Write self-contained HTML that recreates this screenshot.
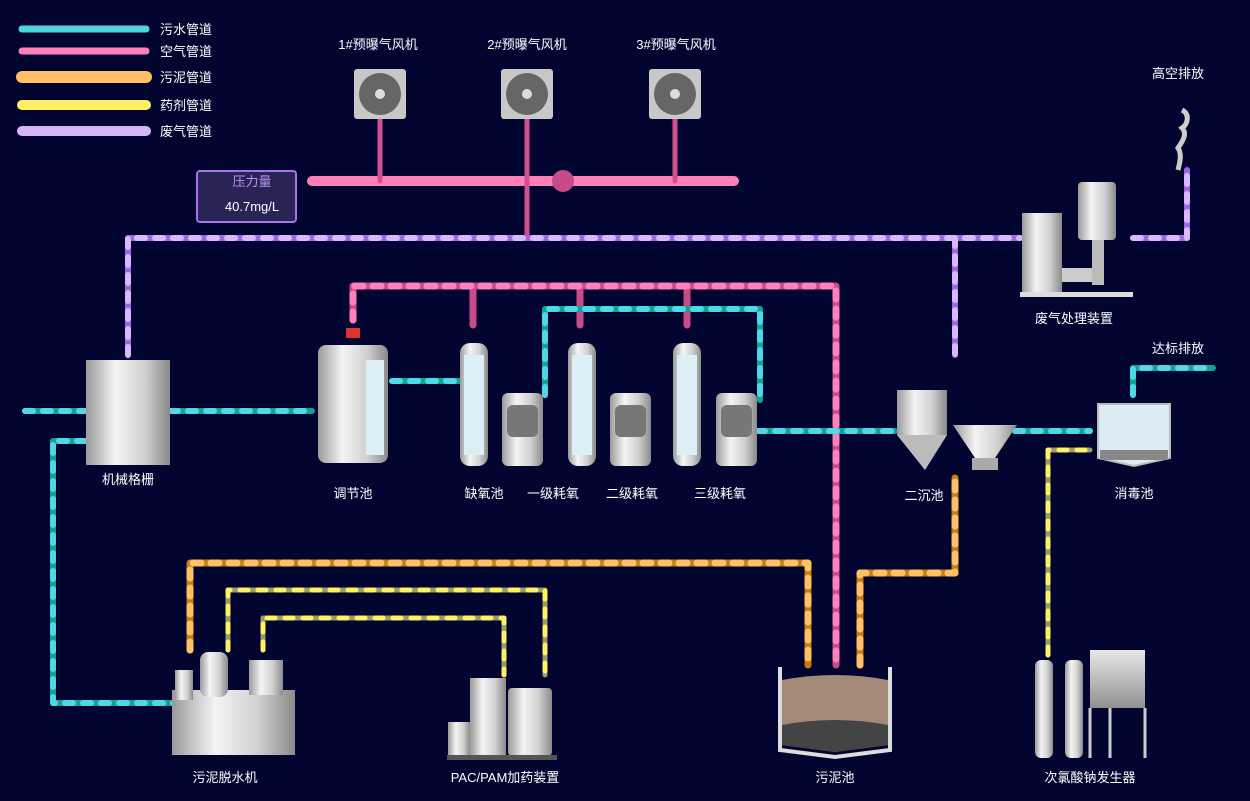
<!DOCTYPE html>
<html><head><meta charset="utf-8"><style>
html,body{margin:0;padding:0;background:#02052f;}
svg{display:block;font-family:"Liberation Sans","Noto Sans CJK SC",sans-serif;}
.l{fill:#fff;font-size:13px;text-anchor:middle;}
</style></head><body>
<svg width="1250" height="801" viewBox="0 0 1250 801">
<defs>
<linearGradient id="m" x1="0" x2="1"><stop offset="0" stop-color="#9a9a9a"/><stop offset=".35" stop-color="#f4f4f4"/><stop offset=".7" stop-color="#d0d0d0"/><stop offset="1" stop-color="#8a8a8a"/></linearGradient>
<linearGradient id="mv" x1="0" y1="0" x2="0" y2="1"><stop offset="0" stop-color="#e8e8e8"/><stop offset="1" stop-color="#909090"/></linearGradient>
</defs>
<rect width="1250" height="801" fill="#02052f"/>
<!-- legend -->
<g stroke-linecap="round">
<line x1="22" y1="29" x2="146" y2="29" stroke="#4fd3e0" stroke-width="7"/>
<line x1="22" y1="51" x2="146" y2="51" stroke="#ff7fb8" stroke-width="7"/>
<line x1="22" y1="77" x2="146" y2="77" stroke="#ffc066" stroke-width="12"/>
<line x1="22" y1="105" x2="146" y2="105" stroke="#fff066" stroke-width="10"/>
<line x1="22" y1="131" x2="146" y2="131" stroke="#d6b4f8" stroke-width="10"/>
</g>
<g fill="#fff" font-size="13"><text x="160" y="34">污水管道</text><text x="160" y="56">空气管道</text><text x="160" y="82">污泥管道</text><text x="160" y="110">药剂管道</text><text x="160" y="136">废气管道</text></g>
<rect x="197" y="171" width="99" height="51" rx="3" fill="#2a2456" stroke="#a574e6" stroke-width="2"/>
<text x="252" y="186" fill="#b790ee" font-size="13" text-anchor="middle">压力量</text>
<text x="252" y="211" fill="#fff" font-size="13" text-anchor="middle">40.7mg/L</text>

<g fill="none" stroke-linecap="round" stroke-linejoin="round">
<!-- air -->
<line x1="312" y1="181" x2="734" y2="181" stroke="#ff7fb8" stroke-width="10"/>
<path d="M380 118V181M675 118V181" stroke="#d24f8f" stroke-width="5"/>
<path d="M527 118V237" stroke="#d24f8f" stroke-width="5"/>
<!-- gas -->
<g stroke-width="6"><path id="g1" d="M128 355V238H1020M955 238V355M1133 238H1187V170" stroke="#a065e0"/>
<path d="M128 355V238H1020M955 238V355M1133 238H1187V170" stroke="#d8b8ff" stroke-dasharray="8 10"/></g>
<!-- air dist -->
<g stroke-width="7"><path d="M353 320V286H836V665M473 286V325M580 286V325M687 286V325" stroke="#c84a88"/>
<path d="M353 320V286H836V665" stroke="#ff80bb" stroke-dasharray="8 10"/></g>
<!-- water -->
<g stroke-width="6"><path d="M25 411H85M170 411H312M392 381H460M545 395V309H760V400M757 431H895M1015 431H1090M1133 395V368H1213M85 441H53V703H175" stroke="#14a095"/>
<path d="M25 411H85M170 411H312M392 381H460M545 395V309H760V400M757 431H895M1015 431H1090M1133 395V368H1213M85 441H53V703H175" stroke="#50d8e8" stroke-dasharray="8 10"/></g>
<!-- sludge -->
<g stroke-width="7"><path d="M190 650V563H808V665M860 665V573H955V478" stroke="#c37d10"/>
<path d="M190 650V563H808V665M860 665V573H955V478" stroke="#ffc066" stroke-dasharray="8 10"/></g>
<!-- chem -->
<g stroke-width="5"><path d="M228 650V590H545V675M263 650V618H504V675M1048 655V450H1090" stroke="#9a9a6a"/>
<path d="M228 650V590H545V675M263 650V618H504V675M1048 655V450H1090" stroke="#fff066" stroke-dasharray="8 10"/></g>
</g>
<circle cx="563" cy="181" r="11" fill="#c84a88"/>

<!-- fans -->
<g>
<rect x="354" y="69" width="52" height="50" rx="3" fill="#c8c8c8"/><circle cx="380" cy="94" r="21" fill="#666"/><circle cx="380" cy="94" r="5" fill="#ddd"/>
<rect x="501" y="69" width="52" height="50" rx="3" fill="#c8c8c8"/><circle cx="527" cy="94" r="21" fill="#666"/><circle cx="527" cy="94" r="5" fill="#ddd"/>
<rect x="649" y="69" width="52" height="50" rx="3" fill="#c8c8c8"/><circle cx="675" cy="94" r="21" fill="#666"/><circle cx="675" cy="94" r="5" fill="#ddd"/>
</g>
<text class="l" x="378" y="49">1#预曝气风机</text><text class="l" x="527" y="49">2#预曝气风机</text><text class="l" x="676" y="49">3#预曝气风机</text>

<!-- grille -->
<rect x="86" y="360" width="84" height="105" fill="url(#m)"/>
<!-- tank -->
<rect x="318" y="345" width="70" height="118" rx="8" fill="url(#m)"/><rect x="366" y="360" width="18" height="95" fill="#dceef6"/>
<rect x="346" y="328" width="14" height="10" fill="#d33"/>
<!-- columns -->
<g fill="url(#m)">
<rect x="460" y="343" width="28" height="123" rx="10"/><rect x="502" y="393" width="41" height="73" rx="6"/>
<rect x="568" y="343" width="28" height="123" rx="10"/><rect x="610" y="393" width="41" height="73" rx="6"/>
<rect x="673" y="343" width="28" height="123" rx="10"/><rect x="716" y="393" width="41" height="73" rx="6"/>
</g>
<g fill="#dceef6"><rect x="464" y="355" width="20" height="100"/><rect x="572" y="355" width="20" height="100"/><rect x="677" y="355" width="20" height="100"/></g>
<g fill="#777"><rect x="507" y="405" width="31" height="32" rx="6"/><rect x="615" y="405" width="31" height="32" rx="6"/><rect x="721" y="405" width="31" height="32" rx="6"/></g>
<!-- clarifier -->
<rect x="897" y="390" width="50" height="45" fill="url(#m)"/><path d="M897 435H947L925 470Z" fill="#bbb"/>
<path d="M953 425H1017L995 458H975Z" fill="url(#m)"/><rect x="972" y="458" width="26" height="12" fill="#aaa"/>
<!-- disinfection -->
<path d="M1098 404H1170V458L1134 466L1098 458Z" fill="#dcecf4" stroke="#bbb" stroke-width="2"/><rect x="1100" y="450" width="68" height="10" fill="#888"/>
<!-- waste gas -->
<rect x="1022" y="213" width="40" height="82" fill="url(#m)"/><rect x="1078" y="182" width="38" height="58" rx="4" fill="url(#m)"/>
<rect x="1062" y="268" width="38" height="14" fill="#ccc"/><rect x="1092" y="240" width="12" height="45" fill="#bbb"/><rect x="1020" y="292" width="113" height="5" fill="#ddd"/>
<path d="M1182 110c8 4 6 14 0 18c6 6 0 14-4 20c4 6 2 14 0 22" stroke="#ccc" stroke-width="5" fill="none"/>
<!-- dewater -->
<rect x="172" y="690" width="123" height="65" fill="url(#m)"/><rect x="200" y="652" width="28" height="45" rx="8" fill="url(#m)"/><rect x="249" y="660" width="34" height="35" fill="url(#m)"/><rect x="175" y="670" width="18" height="30" fill="url(#m)"/>
<!-- PAC -->
<rect x="470" y="678" width="36" height="78" fill="url(#m)"/><rect x="508" y="688" width="44" height="68" rx="4" fill="url(#m)"/><rect x="448" y="722" width="22" height="34" fill="url(#m)"/><rect x="447" y="755" width="110" height="5" fill="#555"/>
<!-- sludge pit -->
<path d="M780 667V750L835 757L890 750V667" fill="none" stroke="#ddd" stroke-width="4"/>
<path d="M782 680Q835 670 888 680V745L835 752L782 745Z" fill="#a48878"/><path d="M782 725Q835 715 888 725V745L835 752L782 745Z" fill="#444"/>
<!-- NaClO -->
<rect x="1035" y="660" width="18" height="98" rx="6" fill="url(#m)"/><rect x="1065" y="660" width="18" height="98" rx="6" fill="url(#m)"/>
<rect x="1090" y="650" width="55" height="58" fill="url(#mv)"/><path d="M1090 708V758M1145 708V758M1110 708V758" stroke="#ccc" stroke-width="3"/>

<text class="l" x="128" y="484">机械格栅</text><text class="l" x="353" y="498">调节池</text>
<text class="l" x="484" y="498">缺氧池</text><text class="l" x="553" y="498">一级耗氧</text><text class="l" x="632" y="498">二级耗氧</text><text class="l" x="720" y="498">三级耗氧</text>
<text class="l" x="924" y="500">二沉池</text><text class="l" x="1134" y="498">消毒池</text>
<text class="l" x="1074" y="323">废气处理装置</text><text class="l" x="1178" y="78">高空排放</text><text class="l" x="1178" y="353">达标排放</text>
<text class="l" x="225" y="782">污泥脱水机</text><text class="l" x="505" y="782">PAC/PAM加药装置</text><text class="l" x="835" y="782">污泥池</text><text class="l" x="1090" y="782">次氯酸钠发生器</text>
</svg>
</body></html>
